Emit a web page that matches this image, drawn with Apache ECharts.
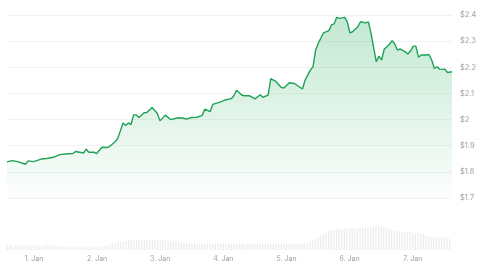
<!DOCTYPE html>
<html>
<head>
<meta charset="utf-8">
<script src="https://cdn.jsdelivr.net/npm/echarts@6/dist/echarts.min.js"></script>
<style>
  html, body { margin: 0; padding: 0; background: #fff; }
  #chart { width: 480px; height: 270px; }
</style>
</head>
<body>
<div id="chart"></div>
<script>
// hours relative to 1 Jan 00:00
const priceHours = [-10, -8, -6, -3, -2, 0, 3, 5, 8, 10, 13, 15, 16, 19, 20, 21, 23, 24, 26, 28, 29, 31, 32, 34, 35, 36, 37, 38, 39, 40, 42, 43, 45, 47, 48, 50, 52, 55, 57, 58, 60, 62, 64, 65, 67, 68, 71, 73, 75, 76, 77, 79, 80, 82, 84, 86, 87, 89, 90, 92, 94, 95, 97, 99, 102, 103, 105, 106, 107, 108, 110, 112, 113, 114, 115, 116, 118, 119, 120, 121, 123, 124, 126, 127, 128, 130, 131, 132, 133, 135, 136, 137, 138, 139, 141, 142, 143, 144, 145, 146, 147, 149, 150, 151, 152, 153, 154, 155, 156, 157, 158.7];
const prices = [1.838, 1.843, 1.839, 1.829, 1.842, 1.839, 1.849, 1.851, 1.857, 1.866, 1.869, 1.870, 1.878, 1.872, 1.887, 1.875, 1.875, 1.870, 1.894, 1.893, 1.898, 1.915, 1.928, 1.987, 1.977, 1.987, 1.981, 2.018, 2.018, 2.008, 2.026, 2.027, 2.046, 2.023, 1.995, 2.017, 2.000, 2.007, 2.005, 2.002, 2.008, 2.009, 2.016, 2.040, 2.030, 2.058, 2.068, 2.076, 2.080, 2.091, 2.112, 2.094, 2.091, 2.091, 2.079, 2.095, 2.085, 2.094, 2.157, 2.145, 2.123, 2.121, 2.141, 2.138, 2.117, 2.151, 2.189, 2.202, 2.266, 2.292, 2.332, 2.340, 2.362, 2.366, 2.391, 2.387, 2.391, 2.374, 2.332, 2.336, 2.355, 2.374, 2.370, 2.374, 2.330, 2.221, 2.243, 2.228, 2.269, 2.288, 2.302, 2.289, 2.266, 2.270, 2.259, 2.251, 2.263, 2.281, 2.281, 2.238, 2.247, 2.247, 2.249, 2.228, 2.196, 2.202, 2.193, 2.192, 2.193, 2.180, 2.183];

// hourly volume from -10h to 158h (arbitrary units)
const volumeStartHour = -10;
const volumes = [
  42, 48, 40, 46, 50, 44, 38, 47, 45, 41, 49, 43, 46, 40, 44, 47, 39, 45, 42, 44, 41,
  35, 30, 33, 29, 34, 31, 28, 33, 30, 32, 29, 31, 34, 30, 33,
  38, 45, 52, 60, 66, 74, 80, 86, 90, 92,
  98, 104, 95, 102, 108, 96, 100, 105, 99, 94, 103, 97, 101, 106, 93, 99, 96, 92, 88,
  80, 72, 68, 66, 70, 62, 65, 68, 60, 64, 67, 63, 66, 61, 65, 69, 62, 64, 60, 66, 63, 65, 61, 64,
  62, 58, 64, 60, 57, 63, 59, 61, 56, 60, 62, 58, 64, 60, 57, 61, 59, 63, 58, 60, 62, 57, 61, 64, 66, 70,
  80, 95, 110, 128, 145, 160, 175, 190, 200,
  205, 212, 218, 208, 220, 214, 210, 222, 216, 209, 219, 224, 213, 218, 226, 230,
  245, 238, 232, 226, 220, 212, 205, 196, 188,
  182, 178, 184, 175, 180, 176, 170, 172, 165, 160,
  140, 135, 128, 132, 125, 120, 130, 118, 122, 115
];

const yTicks = { min: 1.7, max: 2.4, step: 0.1 };

const HOUR = 3600 * 1000;
const t0 = new Date(2025, 0, 1).getTime();
const xMin = t0 + priceHours[0] * HOUR;
const xMax = t0 + priceHours[priceHours.length - 1] * HOUR;

const priceData = priceHours.map((h, i) => [t0 + h * HOUR, prices[i]]);
const volumeData = volumes.map((v, i) => [t0 + (volumeStartHour + i) * HOUR, v]);

const chart = echarts.init(document.getElementById('chart'));
const textColor = '#a0a0a0';
const font = 'Inter, "Noto Sans", sans-serif';

chart.setOption({
  animation: false,
  grid: [
    { left: 7, right: 28, top: 15, bottom: 72 },
    { left: 7, right: 28, top: 200, bottom: 20 }
  ],
  xAxis: [
    { type: 'time', gridIndex: 0, min: xMin, max: xMax, show: false },
    {
      type: 'time', gridIndex: 1, min: xMin, max: xMax,
      minInterval: 24 * HOUR, maxInterval: 24 * HOUR,
      axisLine: { show: false }, axisTick: { show: false }, splitLine: { show: false },
      axisLabel: {
        color: textColor, fontSize: 7, fontFamily: font, margin: 5,
        formatter: v => new Date(v).getDate() + '. Jan'
      }
    }
  ],
  yAxis: [
    {
      type: 'value', gridIndex: 0, position: 'right',
      min: yTicks.min, max: yTicks.max, interval: yTicks.step,
      axisLine: { show: false }, axisTick: { show: false },
      splitLine: { lineStyle: { color: '#f2f2f2', width: 1 } },
      axisLabel: {
        color: textColor, fontSize: 7.5, fontFamily: font, margin: 8,
        padding: [0, 0, 7, 0],
        formatter: v => '$' + parseFloat(v.toFixed(1))
      }
    },
    {
      type: 'value', gridIndex: 1, min: 0, max: 500, show: false
    }
  ],
  series: [
    {
      type: 'bar', xAxisIndex: 1, yAxisIndex: 1,
      data: volumeData, barWidth: 1.2,
      itemStyle: { color: '#ebebeb' }
    },
    {
      type: 'line', xAxisIndex: 0, yAxisIndex: 0,
      data: priceData, showSymbol: false, symbol: 'none',
      lineStyle: { color: '#1ea257', width: 1.4 },
      areaStyle: {
        origin: 'start',
        color: new echarts.graphic.LinearGradient(0, 0, 0, 1, [
          { offset: 0, color: 'rgba(40,175,95,0.4)' },
          { offset: 1, color: 'rgba(40,175,95,0.02)' }
        ])
      }
    }
  ]
});
</script>
</body>
</html>
